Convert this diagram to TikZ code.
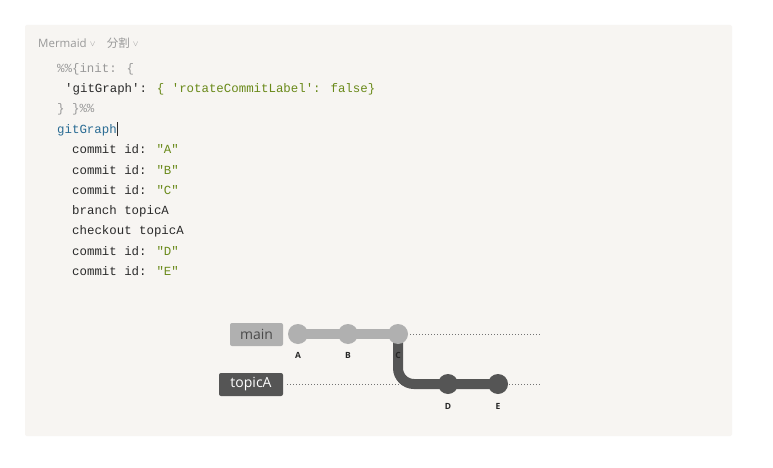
\documentclass[tikz,border=0pt]{standalone}
\usepackage{fontspec}
\setmainfont{Open Sans}
\newfontfamily\codefont{Liberation Mono}
\newfontfamily\cjkf{Noto Sans CJK JP}
\begin{document}
\begin{tikzpicture}[x=1pt,y=-1pt,
  code/.style={anchor=west,inner sep=0pt,font=\codefont\fontsize{12.4}{14}\selectfont,text=txt},
  commit/.style={circle,minimum size=20pt,inner sep=0pt},
  clabel/.style={font=\fontsize{8.5}{9}\selectfont\bfseries,text=black!85,inner sep=0pt},
  blabel/.style={rounded corners=2pt,minimum height=23pt,inner sep=0pt,font=\fontsize{14}{16}\selectfont}]
\definecolor{panel}{HTML}{F7F5F2}
\definecolor{txt}{HTML}{2A2A2A}
\definecolor{cgray}{HTML}{999999}
\definecolor{cblue}{HTML}{2A6C94}
\definecolor{cgreen}{HTML}{6A8A1A}
\definecolor{mainc}{HTML}{B0B0B0}
\definecolor{topc}{HTML}{555555}
\useasboundingbox (0,0) rectangle (773,468);
\fill[white] (0,0) rectangle (773,468);
\fill[panel,rounded corners=2pt] (25,25) rectangle (732,436);
\node[anchor=west,inner sep=0pt,text=cgray,font=\fontsize{11.5}{13}\selectfont] (hdr) at (38,43) {Mermaid \raisebox{1pt}{$\scriptstyle\vee$}\quad{\cjkf 分割} \raisebox{1pt}{$\scriptstyle\vee$}};
\node[code] (l1) at (57,69) {\textcolor{cgray}{\%\%\{init: \{}};
\node[code] (l2) at (65,89) {'gitGraph': \textcolor{cgreen}{\{ 'rotateCommitLabel': false\}}};
\node[code] (l3) at (57,109) {\textcolor{cgray}{\} \}\%\%}};
\node[code] (l4) at (57,129) {\textcolor{cblue}{gitGraph}\rule[-3pt]{0.6pt}{14pt}};
\node[code] (l5) at (72,149) {commit id: \textcolor{cgreen}{"A"}};
\node[code] (l6) at (72,170) {commit id: \textcolor{cgreen}{"B"}};
\node[code] (l7) at (72,190) {commit id: \textcolor{cgreen}{"C"}};
\node[code] (l8) at (72,211) {branch topicA};
\node[code] (l9) at (72,231) {checkout topicA};
\node[code] (l10) at (72,251) {commit id: \textcolor{cgreen}{"D"}};
\node[code] (l11) at (72,271) {commit id: \textcolor{cgreen}{"E"}};
% graph
\coordinate (me) at (540,334);
\coordinate (ts) at (287,384);
\coordinate (te) at (540,384);
\node[blabel,fill=mainc,text=txt!85,minimum width=53pt] (mainl) at (256.5,334.5) {main};
\node[blabel,fill=topc,text=white,minimum width=64pt] (topl) at (251,384.5) {topicA};
\node[commit] (A) at (298,334) {};
\node[commit] (B) at (348,334) {};
\node[commit] (C) at (398,334) {};
\node[commit] (D) at (448,384) {};
\node[commit] (E) at (498,384) {};
\draw[black!55,dotted,line width=1pt] (C.center) -- (me);
\draw[black!55,dotted,line width=1pt] (ts) -- (te);
\draw[mainc,line width=10pt] (A.center) -- (C.center);
\draw[topc,line width=10pt,rounded corners=16pt] (C.center) -- (398,384) -- (D.center) -- (E.center);
\fill[mainc] (A) circle (10); \fill[mainc] (B) circle (10); \fill[mainc] (C) circle (10);
\fill[topc] (D) circle (10); \fill[topc] (E) circle (10);
\node[clabel] (la) at (298,355) {A};
\node[clabel] (lb) at (348,355) {B};
\node[clabel] (lc) at (398,355) {C};
\node[clabel] (ld) at (448,406) {D};
\node[clabel] (le) at (498,406) {E};
\end{tikzpicture}
\end{document}
